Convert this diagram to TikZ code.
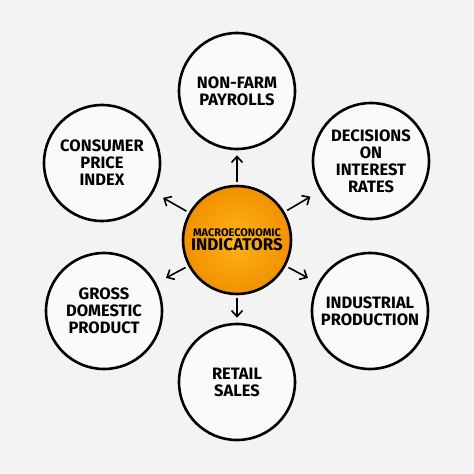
\documentclass[tikz,border=0pt]{standalone}
\usepackage{fontspec}
\setmainfont{Fira Sans}
\usetikzlibrary{arrows.meta}
\definecolor{bg}{HTML}{F3F3F3}
\definecolor{inner}{HTML}{FAFAFA}
\definecolor{hubin}{HTML}{FFB31A}
\definecolor{hubout}{HTML}{F29100}
\begin{document}
\begin{tikzpicture}[x=1pt,y=-1pt,
  outer/.style={circle,draw=black,line width=2.6pt,minimum size=116pt,fill=inner,
    font=\bfseries\fontsize{16.5}{17}\selectfont,align=center,inner sep=0pt},
  hub/.style={circle,draw=black,line width=2.6pt,minimum size=108pt,
    shading=radial,inner color=hubin,outer color=hubout,align=center,inner sep=0pt},
  arr/.style={-{Straight Barb[length=6pt,width=11pt,line width=1.6pt]},line width=1.6pt,shorten <=3pt},
  arrv/.style={arr,shorten >=5pt},
  arrd/.style={arr,shorten >=11pt}]
\fill[bg] (0,0) rectangle (474,474);
\useasboundingbox (0,0) rectangle (474,474);
\node[hub] (hub) at (237,240) {{\bfseries\fontsize{11}{12}\selectfont MACROECONOMIC}\\[1pt]{\bfseries\fontsize{17}{17}\selectfont INDICATORS}};
\node[outer] (npay) at (237,91) {NON-FARM\\PAYROLLS};
\node[outer] (dec) at (371,161) {DECISIONS\\ON\\INTEREST\\RATES};
\node[outer] (ind) at (370,311) {INDUSTRIAL\\PRODUCTION};
\node[outer] (ret) at (237,382) {RETAIL\\SALES};
\node[outer] (gdp) at (104,311) {GROSS\\DOMESTIC\\PRODUCT};
\node[outer] (cpi) at (102,163) {CONSUMER\\PRICE\\INDEX};
\draw[arrv] (hub) -- (npay);
\draw[arrv] (hub) -- (ret);
\draw[arrd] (hub) -- (dec);
\draw[arrd] (hub) -- (ind);
\draw[arrd] (hub) -- (gdp);
\draw[arrd] (hub) -- (cpi);
\end{tikzpicture}
\end{document}
